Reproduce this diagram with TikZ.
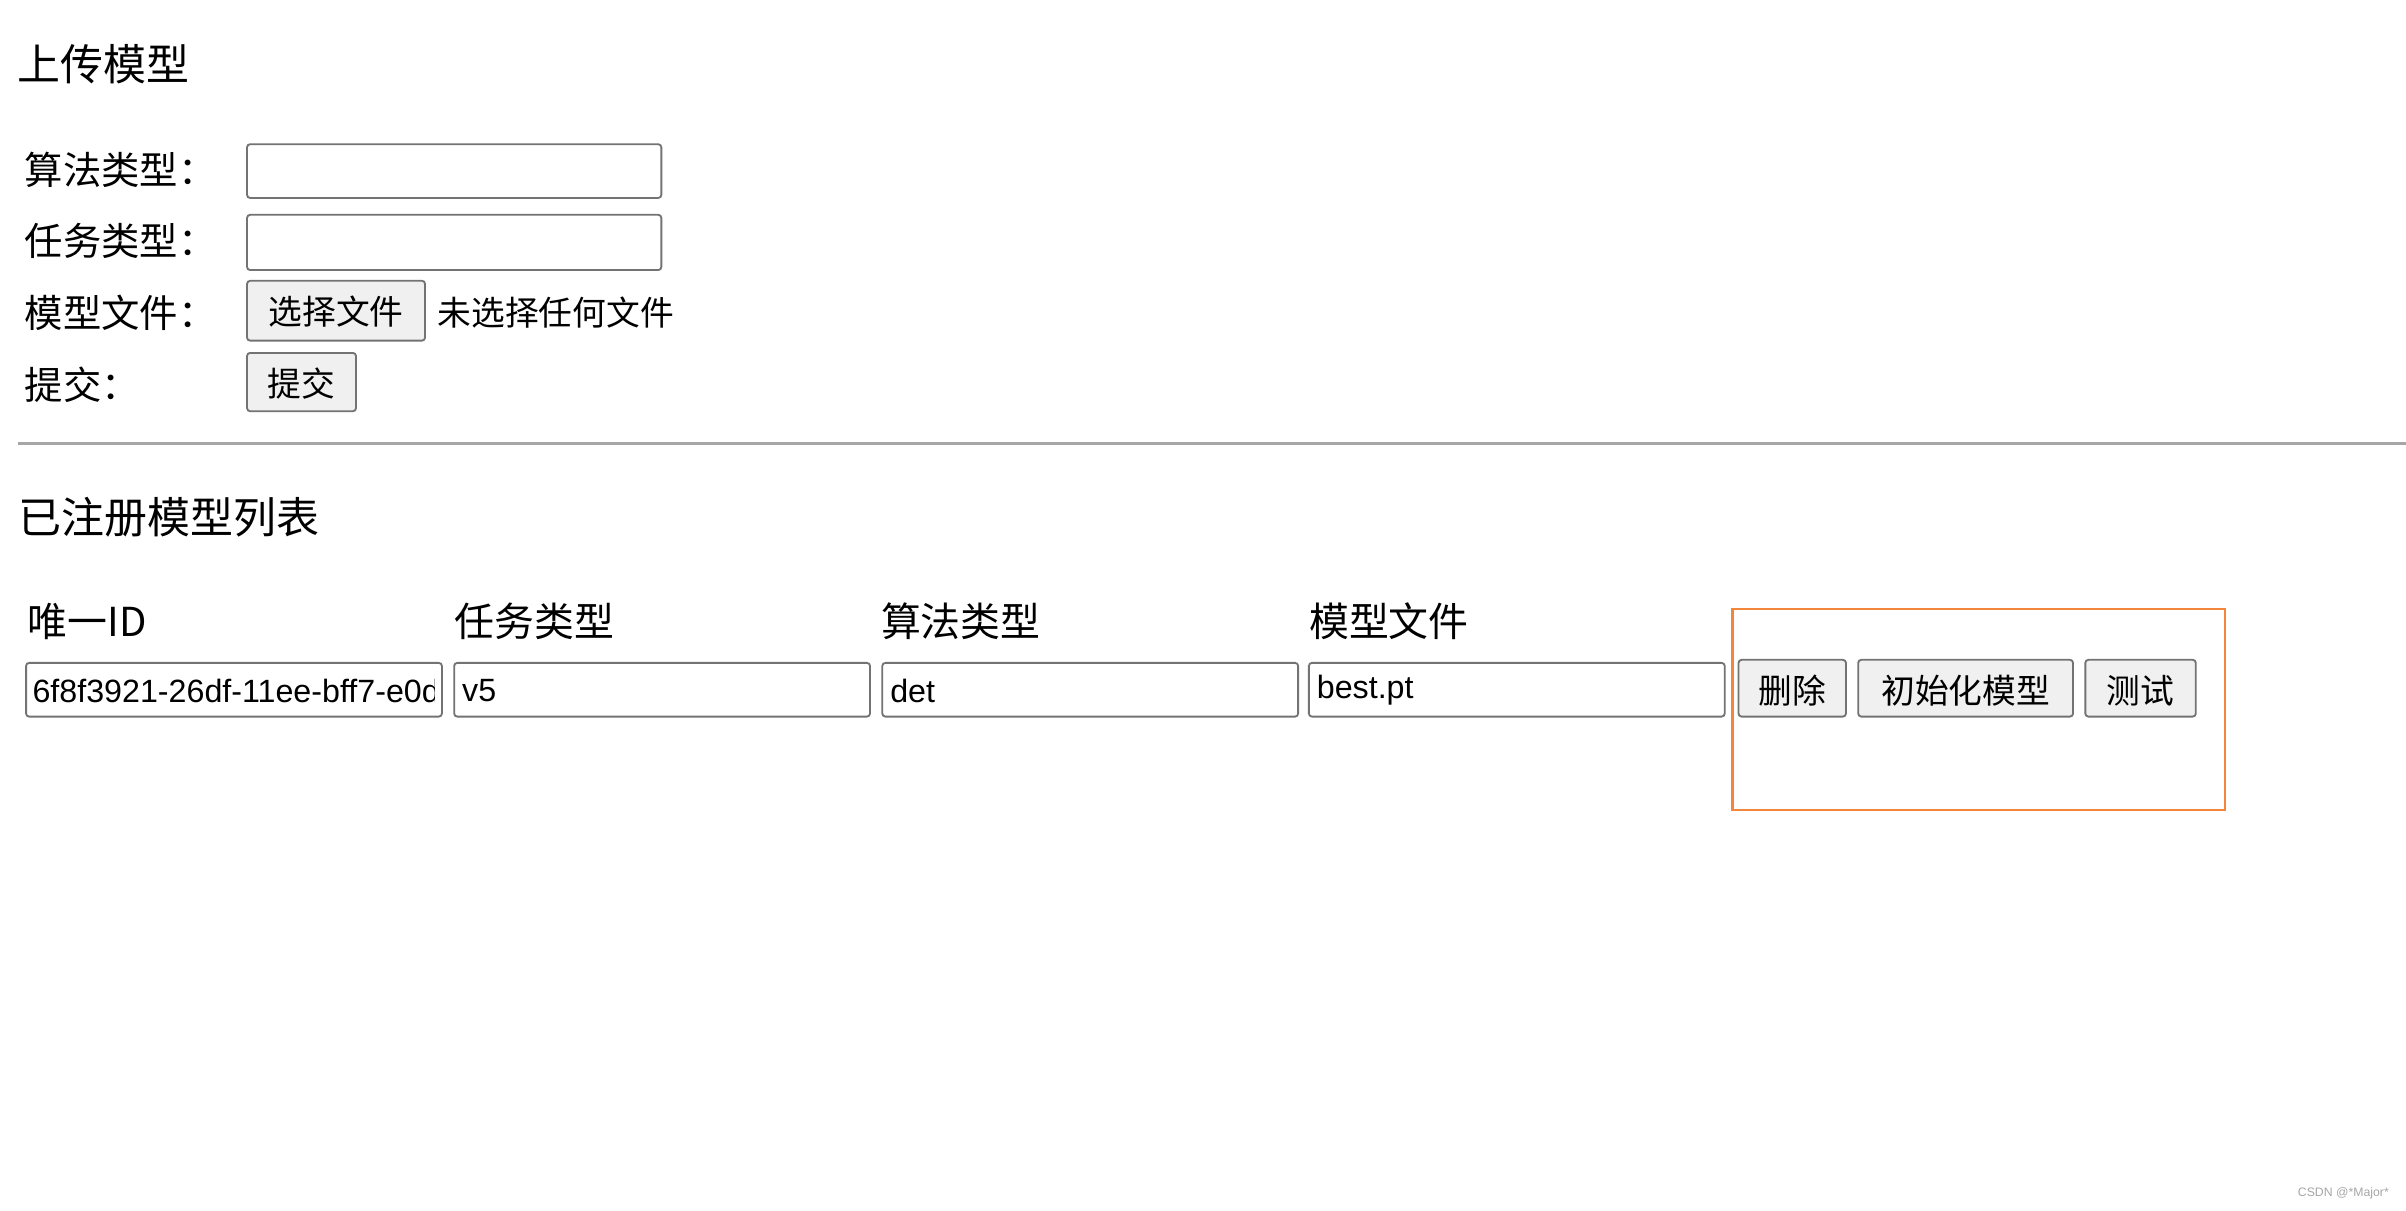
\documentclass[tikz,border=0pt]{standalone}
\usepackage{fontspec}
\setmainfont{Liberation Sans}
\newfontfamily\cjk{Noto Sans CJK SC}
\begin{document}
\begin{tikzpicture}[x=1pt,y=-1pt,
  inbox/.style={draw=gray!110,line width=1.2pt,rounded corners=2pt},
  btn/.style={draw=gray!110,fill=gray!12,line width=1.2pt,rounded corners=2pt},
  lab/.style={anchor=west,inner sep=0pt,font=\cjk\fontsize{25}{25}\selectfont},
  ttl/.style={anchor=west,inner sep=0pt,font=\cjk\fontsize{28}{28}\selectfont},
  txt/.style={anchor=west,inner sep=0pt,font=\fontsize{21}{21}\selectfont},
  btxt/.style={inner sep=0pt,font=\cjk\fontsize{22}{22}\selectfont}]
\useasboundingbox (0,0) rectangle (1568,789);
\fill[white] (0,0) rectangle (1568,789);
\node[ttl] (t1) at (11,42) {上传模型};
\node[lab] (l1) at (16,111) {算法类型：};
\node[lab] (l2) at (16,157) {任务类型：};
\node[lab] (l3) at (16,204) {模型文件：};
\node[lab] (l4) at (16,251) {提交：};
\draw[inbox] (161,94) rectangle (431,129);
\draw[inbox] (161,140) rectangle (431,176);
\draw[btn] (161,183) rectangle (277,222);
\node[btxt] (b1) at (219,203) {选择文件};
\node[anchor=west,inner sep=0pt,font=\cjk\fontsize{22}{22}\selectfont] (nf) at (285,204) {未选择任何文件};
\draw[btn] (161,230) rectangle (232,268);
\node[btxt] (b2) at (196.5,250) {提交};
\draw[gray!70,line width=1.5pt] (12,289) -- (1568,289);
\node[ttl] (t2) at (12,337) {已注册模型列表};
\node[lab,font=\cjk\fontsize{26}{26}\selectfont] (h1) at (18,405) {唯一ID};
\node[lab,font=\cjk\fontsize{26}{26}\selectfont] (h2) at (296,405) {任务类型};
\node[lab,font=\cjk\fontsize{26}{26}\selectfont] (h3) at (574,405) {算法类型};
\node[lab,font=\cjk\fontsize{26}{26}\selectfont] (h4) at (853,405) {模型文件};
\draw[inbox] (17,432) rectangle (288,467);
\draw[inbox] (296,432) rectangle (567,467);
\draw[inbox] (575,432) rectangle (846,467);
\draw[inbox] (853,432) rectangle (1124,467);
\begin{scope}
\clip (19,433) rectangle (283,466);
\node[txt] (v1) at (21,450) {6f8f3921-26df-11ee-bff7-e0d};
\end{scope}
\node[txt] (v2) at (301,450) {v5};
\node[txt] (v3) at (580,450) {det};
\node[txt] (v4) at (858,450) {best.pt};
\draw[btn] (1133,430) rectangle (1203,467);
\node[btxt] (d1) at (1168,450) {删除};
\draw[btn] (1211,430) rectangle (1351,467);
\node[btxt] (d2) at (1281,450) {初始化模型};
\draw[btn] (1359,430) rectangle (1431,467);
\node[btxt] (d3) at (1395,450) {测试};
\draw[orange!80!red!90,line width=1.5pt,draw={rgb,255:red,242;green,135;blue,60}] (1129,397) rectangle (1450,528);
\node[anchor=east,inner sep=0pt,text=gray!70,font=\fontsize{8}{8}\selectfont] (wm) at (1557,778) {CSDN @*Major*};
\end{tikzpicture}
\end{document}
